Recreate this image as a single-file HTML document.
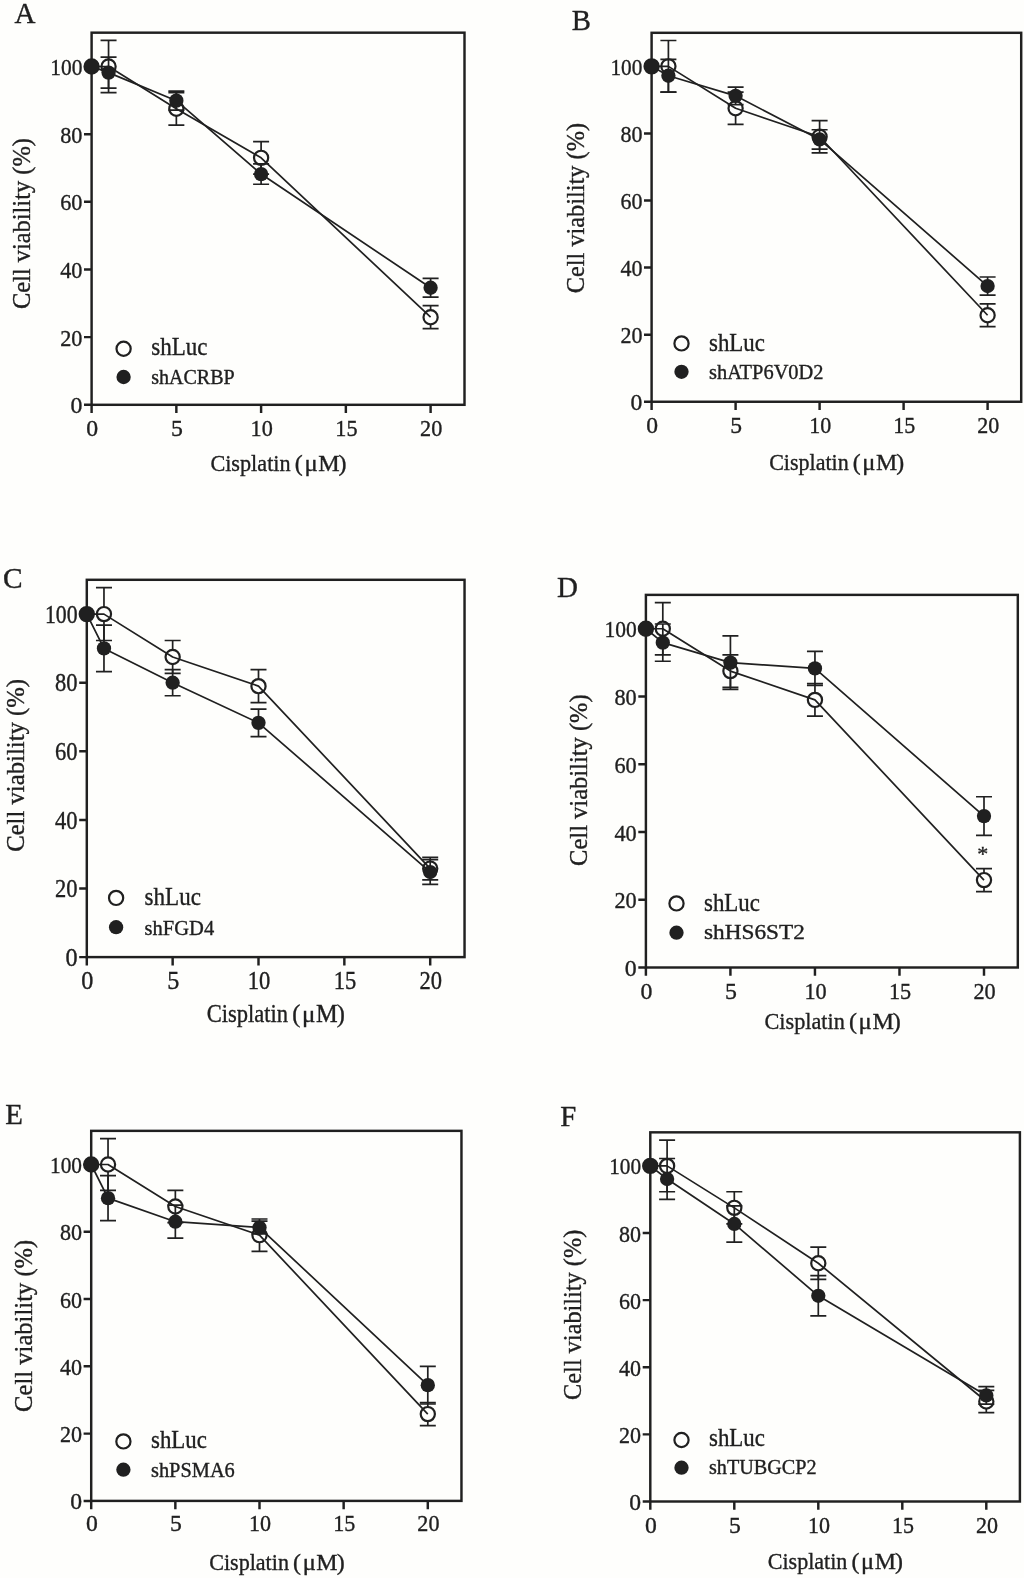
<!DOCTYPE html>
<html lang="en">
<head>
<meta charset="utf-8">
<title>Cell viability vs cisplatin</title>
<style>
html,body{margin:0;padding:0;background:#fefefc;}
body{width:1024px;height:1578px;overflow:hidden;}
svg{display:block;filter:blur(0.45px);}
svg text{font-family:"Liberation Serif", "DejaVu Serif", serif;fill:#202020;stroke:#202020;stroke-width:0.35px;}
</style>
</head>
<body>
<svg width="1024" height="1578" viewBox="0 0 1024 1578">
<rect width="1024" height="1578" fill="#fefefc"/>
<g id="panelA">
<rect x="91.6" y="32.67" width="372.9" height="372.13" fill="none" stroke="#202020" stroke-width="2.45"/>
<path d="M84 404.8H91.6M84 337.14H91.6M84 269.48H91.6M84 201.82H91.6M84 134.16H91.6M84 66.5H91.6M91.6 404.8V413.1M176.35 404.8V413.1M261.1 404.8V413.1M345.85 404.8V413.1M430.6 404.8V413.1" stroke="#202020" stroke-width="2.45" fill="none"/>
<text x="82.4" y="413.4" font-size="23.9" text-anchor="end" textLength="11.9" lengthAdjust="spacingAndGlyphs">0</text>
<text x="82.4" y="345.74" font-size="23.9" text-anchor="end" textLength="22.2" lengthAdjust="spacingAndGlyphs">20</text>
<text x="82.4" y="278.08" font-size="23.9" text-anchor="end" textLength="22.2" lengthAdjust="spacingAndGlyphs">40</text>
<text x="82.4" y="210.42" font-size="23.9" text-anchor="end" textLength="22.2" lengthAdjust="spacingAndGlyphs">60</text>
<text x="82.4" y="142.76" font-size="23.9" text-anchor="end" textLength="22.2" lengthAdjust="spacingAndGlyphs">80</text>
<text x="82.4" y="75.1" font-size="23.9" text-anchor="end" textLength="32.2" lengthAdjust="spacingAndGlyphs">100</text>
<text x="92.2" y="436.1" font-size="23.9" text-anchor="middle" textLength="11.9" lengthAdjust="spacingAndGlyphs">0</text>
<text x="176.95" y="436.1" font-size="23.9" text-anchor="middle" textLength="11.9" lengthAdjust="spacingAndGlyphs">5</text>
<text x="261.7" y="436.1" font-size="23.9" text-anchor="middle" textLength="22.2" lengthAdjust="spacingAndGlyphs">10</text>
<text x="346.45" y="436.1" font-size="23.9" text-anchor="middle" textLength="22.2" lengthAdjust="spacingAndGlyphs">15</text>
<text x="431.2" y="436.1" font-size="23.9" text-anchor="middle" textLength="22.2" lengthAdjust="spacingAndGlyphs">20</text>
<text y="471.3" font-size="24"><tspan x="210.4" textLength="80.2" lengthAdjust="spacingAndGlyphs">Cisplatin</tspan> <tspan x="294.7">(</tspan><tspan x="304.4" font-size="22.5" textLength="13.2" lengthAdjust="spacingAndGlyphs">μ</tspan><tspan x="318.2" textLength="21.4" lengthAdjust="spacingAndGlyphs">M</tspan><tspan x="338.6">)</tspan></text>
<text transform="translate(30.4 223.6) rotate(-90)" font-size="25" text-anchor="middle" textLength="171" lengthAdjust="spacingAndGlyphs">Cell viability (%)</text>
<text x="14.5" y="23.4" font-size="29">A</text>
<path d="M108.55 40.45V92.55M100.55 40.45h16M100.55 92.55h16M176.35 92.55V125.03M168.35 92.55h16M168.35 125.03h16M261.1 141.6V174.08M253.1 141.6h16M253.1 174.08h16M430.6 305.68V328.68M422.6 305.68h16M422.6 328.68h16" stroke="#202020" stroke-width="1.7" fill="none"/>
<circle cx="91.6" cy="66.5" r="7.1" fill="#fefefc" stroke="#202020" stroke-width="2.2"/>
<circle cx="108.55" cy="66.5" r="7.1" fill="#fefefc" stroke="#202020" stroke-width="2.2"/>
<circle cx="176.35" cy="108.79" r="7.1" fill="#fefefc" stroke="#202020" stroke-width="2.2"/>
<circle cx="261.1" cy="157.84" r="7.1" fill="#fefefc" stroke="#202020" stroke-width="2.2"/>
<circle cx="430.6" cy="317.18" r="7.1" fill="#fefefc" stroke="#202020" stroke-width="2.2"/>
<polyline points="91.6,66.5 108.55,66.5 176.35,108.79 261.1,157.84 430.6,317.18" fill="none" stroke="#202020" stroke-width="1.7" stroke-linejoin="round"/>
<path d="M108.55 57.03V88.15M100.55 57.03h16M100.55 88.15h16M176.35 91.2V110.14M168.35 91.2h16M168.35 110.14h16M261.1 163.93V184.23M253.1 163.93h16M253.1 184.23h16M430.6 278.44V297.05M422.6 278.44h16M422.6 297.05h16" stroke="#202020" stroke-width="1.7" fill="none"/>
<polyline points="91.6,66.5 108.55,72.59 176.35,100.67 261.1,174.08 430.6,287.75" fill="none" stroke="#202020" stroke-width="1.7" stroke-linejoin="round"/>
<circle cx="91.6" cy="66.5" r="7.15" fill="#202020"/>
<circle cx="108.55" cy="72.59" r="7.15" fill="#202020"/>
<circle cx="176.35" cy="100.67" r="7.15" fill="#202020"/>
<circle cx="261.1" cy="174.08" r="7.15" fill="#202020"/>
<circle cx="430.6" cy="287.75" r="7.15" fill="#202020"/>
<circle cx="123.6" cy="348.75" r="7.1" fill="none" stroke="#202020" stroke-width="2.2"/>
<circle cx="123.6" cy="377" r="7.15" fill="#202020"/>
<text x="151.2" y="355" font-size="24.4" textLength="56.2" lengthAdjust="spacingAndGlyphs">shLuc</text>
<text x="151.2" y="384" font-size="20.8" textLength="83.6" lengthAdjust="spacingAndGlyphs">shACRBP</text>
</g>
<g id="panelB">
<rect x="651.6" y="32.81" width="369.6" height="368.94" fill="none" stroke="#202020" stroke-width="2.45"/>
<path d="M644 401.75H651.6M644 334.67H651.6M644 267.59H651.6M644 200.51H651.6M644 133.43H651.6M644 66.35H651.6M651.6 401.75V410.05M735.6 401.75V410.05M819.6 401.75V410.05M903.6 401.75V410.05M987.6 401.75V410.05" stroke="#202020" stroke-width="2.45" fill="none"/>
<text x="642.4" y="410.28" font-size="23.7" text-anchor="end" textLength="11.8" lengthAdjust="spacingAndGlyphs">0</text>
<text x="642.4" y="343.2" font-size="23.7" text-anchor="end" textLength="22.01" lengthAdjust="spacingAndGlyphs">20</text>
<text x="642.4" y="276.12" font-size="23.7" text-anchor="end" textLength="22.01" lengthAdjust="spacingAndGlyphs">40</text>
<text x="642.4" y="209.04" font-size="23.7" text-anchor="end" textLength="22.01" lengthAdjust="spacingAndGlyphs">60</text>
<text x="642.4" y="141.96" font-size="23.7" text-anchor="end" textLength="22.01" lengthAdjust="spacingAndGlyphs">80</text>
<text x="642.4" y="74.88" font-size="23.7" text-anchor="end" textLength="31.92" lengthAdjust="spacingAndGlyphs">100</text>
<text x="652.2" y="432.78" font-size="23.7" text-anchor="middle" textLength="11.8" lengthAdjust="spacingAndGlyphs">0</text>
<text x="736.2" y="432.78" font-size="23.7" text-anchor="middle" textLength="11.8" lengthAdjust="spacingAndGlyphs">5</text>
<text x="820.2" y="432.78" font-size="23.7" text-anchor="middle" textLength="22.01" lengthAdjust="spacingAndGlyphs">10</text>
<text x="904.2" y="432.78" font-size="23.7" text-anchor="middle" textLength="22.01" lengthAdjust="spacingAndGlyphs">15</text>
<text x="988.2" y="432.78" font-size="23.7" text-anchor="middle" textLength="22.01" lengthAdjust="spacingAndGlyphs">20</text>
<text y="470.3" font-size="23.79"><tspan x="769.2" textLength="79.51" lengthAdjust="spacingAndGlyphs">Cisplatin</tspan> <tspan x="852.78">(</tspan><tspan x="862.39" font-size="22.31" textLength="13.09" lengthAdjust="spacingAndGlyphs">μ</tspan><tspan x="876.08" textLength="21.22" lengthAdjust="spacingAndGlyphs">M</tspan><tspan x="896.3">)</tspan></text>
<text transform="translate(583.9 208.1) rotate(-90)" font-size="24.79" text-anchor="middle" textLength="170.2" lengthAdjust="spacingAndGlyphs">Cell viability (%)</text>
<text x="571.8" y="29.5" font-size="28.75">B</text>
<path d="M668.4 40.52V92.18M660.4 40.52h16M660.4 92.18h16M735.6 92.18V124.37M727.6 92.18h16M727.6 124.37h16M819.6 120.68V152.88M811.6 120.68h16M811.6 152.88h16M987.6 303.81V326.62M979.6 303.81h16M979.6 326.62h16" stroke="#202020" stroke-width="1.7" fill="none"/>
<circle cx="651.6" cy="66.35" r="7.1" fill="#fefefc" stroke="#202020" stroke-width="2.2"/>
<circle cx="668.4" cy="66.35" r="7.1" fill="#fefefc" stroke="#202020" stroke-width="2.2"/>
<circle cx="735.6" cy="108.27" r="7.1" fill="#fefefc" stroke="#202020" stroke-width="2.2"/>
<circle cx="819.6" cy="136.78" r="7.1" fill="#fefefc" stroke="#202020" stroke-width="2.2"/>
<circle cx="987.6" cy="315.22" r="7.1" fill="#fefefc" stroke="#202020" stroke-width="2.2"/>
<polyline points="651.6,66.35 668.4,66.35 735.6,108.27 819.6,136.78 987.6,315.22" fill="none" stroke="#202020" stroke-width="1.7" stroke-linejoin="round"/>
<path d="M668.4 59.31V92.18M660.4 59.31h16M660.4 92.18h16M735.6 87.14V104.59M727.6 87.14h16M727.6 104.59h16M819.6 129.74V149.19M811.6 129.74h16M811.6 149.19h16M987.6 276.98V295.09M979.6 276.98h16M979.6 295.09h16" stroke="#202020" stroke-width="1.7" fill="none"/>
<polyline points="651.6,66.35 668.4,75.74 735.6,95.87 819.6,139.47 987.6,286.04" fill="none" stroke="#202020" stroke-width="1.7" stroke-linejoin="round"/>
<circle cx="651.6" cy="66.35" r="7.15" fill="#202020"/>
<circle cx="668.4" cy="75.74" r="7.15" fill="#202020"/>
<circle cx="735.6" cy="95.87" r="7.15" fill="#202020"/>
<circle cx="819.6" cy="139.47" r="7.15" fill="#202020"/>
<circle cx="987.6" cy="286.04" r="7.15" fill="#202020"/>
<circle cx="681.5" cy="343.4" r="7.1" fill="none" stroke="#202020" stroke-width="2.2"/>
<circle cx="681.5" cy="371.8" r="7.15" fill="#202020"/>
<text x="709" y="350.9" font-size="24.19" textLength="55.9" lengthAdjust="spacingAndGlyphs">shLuc</text>
<text x="709" y="378.6" font-size="20.62" textLength="114.5" lengthAdjust="spacingAndGlyphs">shATP6V0D2</text>
</g>
<g id="panelC">
<rect x="86.8" y="579.8" width="377.74" height="377.3" fill="none" stroke="#202020" stroke-width="2.45"/>
<path d="M79.2 957.1H86.8M79.2 888.5H86.8M79.2 819.9H86.8M79.2 751.3H86.8M79.2 682.7H86.8M79.2 614.1H86.8M86.8 957.1V965.4M172.65 957.1V965.4M258.5 957.1V965.4M344.35 957.1V965.4M430.2 957.1V965.4" stroke="#202020" stroke-width="2.45" fill="none"/>
<text x="77.6" y="965.82" font-size="24.23" text-anchor="end" textLength="12.07" lengthAdjust="spacingAndGlyphs">0</text>
<text x="77.6" y="897.22" font-size="24.23" text-anchor="end" textLength="22.51" lengthAdjust="spacingAndGlyphs">20</text>
<text x="77.6" y="828.62" font-size="24.23" text-anchor="end" textLength="22.51" lengthAdjust="spacingAndGlyphs">40</text>
<text x="77.6" y="760.02" font-size="24.23" text-anchor="end" textLength="22.51" lengthAdjust="spacingAndGlyphs">60</text>
<text x="77.6" y="691.42" font-size="24.23" text-anchor="end" textLength="22.51" lengthAdjust="spacingAndGlyphs">80</text>
<text x="77.6" y="622.82" font-size="24.23" text-anchor="end" textLength="32.65" lengthAdjust="spacingAndGlyphs">100</text>
<text x="87.4" y="988.83" font-size="24.23" text-anchor="middle" textLength="12.07" lengthAdjust="spacingAndGlyphs">0</text>
<text x="173.25" y="988.83" font-size="24.23" text-anchor="middle" textLength="12.07" lengthAdjust="spacingAndGlyphs">5</text>
<text x="259.1" y="988.83" font-size="24.23" text-anchor="middle" textLength="22.51" lengthAdjust="spacingAndGlyphs">10</text>
<text x="344.95" y="988.83" font-size="24.23" text-anchor="middle" textLength="22.51" lengthAdjust="spacingAndGlyphs">15</text>
<text x="430.8" y="988.83" font-size="24.23" text-anchor="middle" textLength="22.51" lengthAdjust="spacingAndGlyphs">20</text>
<text y="1022.3" font-size="24.33"><tspan x="206.8" textLength="81.31" lengthAdjust="spacingAndGlyphs">Cisplatin</tspan> <tspan x="292.27">(</tspan><tspan x="302.11" font-size="22.81" textLength="13.38" lengthAdjust="spacingAndGlyphs">μ</tspan><tspan x="316.1" textLength="21.7" lengthAdjust="spacingAndGlyphs">M</tspan><tspan x="336.78">)</tspan></text>
<text transform="translate(23.9 765.4) rotate(-90)" font-size="25.35" text-anchor="middle" textLength="172.9" lengthAdjust="spacingAndGlyphs">Cell viability (%)</text>
<text x="2.9" y="588.1" font-size="29.4">C</text>
<path d="M103.97 587.69V640.51M95.97 587.69h16M95.97 640.51h16M172.65 640.51V673.44M164.65 640.51h16M164.65 673.44h16M258.5 669.67V702.59M250.5 669.67h16M250.5 702.59h16M430.2 857.29V879.93M422.2 857.29h16M422.2 879.93h16" stroke="#202020" stroke-width="1.7" fill="none"/>
<circle cx="86.8" cy="614.1" r="7.1" fill="#fefefc" stroke="#202020" stroke-width="2.2"/>
<circle cx="103.97" cy="614.1" r="7.1" fill="#fefefc" stroke="#202020" stroke-width="2.2"/>
<circle cx="172.65" cy="656.98" r="7.1" fill="#fefefc" stroke="#202020" stroke-width="2.2"/>
<circle cx="258.5" cy="686.13" r="7.1" fill="#fefefc" stroke="#202020" stroke-width="2.2"/>
<circle cx="430.2" cy="868.61" r="7.1" fill="#fefefc" stroke="#202020" stroke-width="2.2"/>
<polyline points="86.8,614.1 103.97,614.1 172.65,656.98 258.5,686.13 430.2,868.61" fill="none" stroke="#202020" stroke-width="1.7" stroke-linejoin="round"/>
<path d="M103.97 625.08V671.72M95.97 625.08h16M95.97 671.72h16M172.65 669.67V695.73M164.65 669.67h16M164.65 695.73h16M258.5 709.11V736.55M250.5 709.11h16M250.5 736.55h16M430.2 859.69V884.38M422.2 859.69h16M422.2 884.38h16" stroke="#202020" stroke-width="1.7" fill="none"/>
<polyline points="86.8,614.1 103.97,648.4 172.65,682.7 258.5,722.83 430.2,872.04" fill="none" stroke="#202020" stroke-width="1.7" stroke-linejoin="round"/>
<circle cx="86.8" cy="614.1" r="7.15" fill="#202020"/>
<circle cx="103.97" cy="648.4" r="7.15" fill="#202020"/>
<circle cx="172.65" cy="682.7" r="7.15" fill="#202020"/>
<circle cx="258.5" cy="722.83" r="7.15" fill="#202020"/>
<circle cx="430.2" cy="872.04" r="7.15" fill="#202020"/>
<circle cx="116.1" cy="897.9" r="7.1" fill="none" stroke="#202020" stroke-width="2.2"/>
<circle cx="116.1" cy="927.2" r="7.15" fill="#202020"/>
<text x="144.6" y="905.2" font-size="24.74" textLength="56.3" lengthAdjust="spacingAndGlyphs">shLuc</text>
<text x="144.6" y="934.5" font-size="21.09" textLength="69.55" lengthAdjust="spacingAndGlyphs">shFGD4</text>
</g>
<g id="panelD">
<rect x="645.9" y="594.88" width="371.91" height="372.62" fill="none" stroke="#202020" stroke-width="2.45"/>
<path d="M638.3 967.5H645.9M638.3 899.75H645.9M638.3 832H645.9M638.3 764.25H645.9M638.3 696.5H645.9M638.3 628.75H645.9M645.9 967.5V975.8M730.42 967.5V975.8M814.95 967.5V975.8M899.48 967.5V975.8M984 967.5V975.8" stroke="#202020" stroke-width="2.45" fill="none"/>
<text x="636.7" y="976.11" font-size="23.93" text-anchor="end" textLength="11.92" lengthAdjust="spacingAndGlyphs">0</text>
<text x="636.7" y="908.36" font-size="23.93" text-anchor="end" textLength="22.23" lengthAdjust="spacingAndGlyphs">20</text>
<text x="636.7" y="840.61" font-size="23.93" text-anchor="end" textLength="22.23" lengthAdjust="spacingAndGlyphs">40</text>
<text x="636.7" y="772.86" font-size="23.93" text-anchor="end" textLength="22.23" lengthAdjust="spacingAndGlyphs">60</text>
<text x="636.7" y="705.11" font-size="23.93" text-anchor="end" textLength="22.23" lengthAdjust="spacingAndGlyphs">80</text>
<text x="636.7" y="637.36" font-size="23.93" text-anchor="end" textLength="32.24" lengthAdjust="spacingAndGlyphs">100</text>
<text x="646.5" y="998.84" font-size="23.93" text-anchor="middle" textLength="11.92" lengthAdjust="spacingAndGlyphs">0</text>
<text x="731.02" y="998.84" font-size="23.93" text-anchor="middle" textLength="11.92" lengthAdjust="spacingAndGlyphs">5</text>
<text x="815.55" y="998.84" font-size="23.93" text-anchor="middle" textLength="22.23" lengthAdjust="spacingAndGlyphs">10</text>
<text x="900.08" y="998.84" font-size="23.93" text-anchor="middle" textLength="22.23" lengthAdjust="spacingAndGlyphs">15</text>
<text x="984.6" y="998.84" font-size="23.93" text-anchor="middle" textLength="22.23" lengthAdjust="spacingAndGlyphs">20</text>
<text y="1029.4" font-size="24.03"><tspan x="764.5" textLength="80.31" lengthAdjust="spacingAndGlyphs">Cisplatin</tspan> <tspan x="848.91">(</tspan><tspan x="858.63" font-size="22.53" textLength="13.22" lengthAdjust="spacingAndGlyphs">μ</tspan><tspan x="872.44" textLength="21.43" lengthAdjust="spacingAndGlyphs">M</tspan><tspan x="892.87">)</tspan></text>
<text transform="translate(587.4 780.1) rotate(-90)" font-size="25.03" text-anchor="middle" textLength="171.6" lengthAdjust="spacingAndGlyphs">Cell viability (%)</text>
<text x="557.1" y="596.8" font-size="29.04">D</text>
<path d="M662.8 602.67V654.83M654.8 602.67h16M654.8 654.83h16M730.42 654.83V687.35M722.42 654.83h16M722.42 687.35h16M814.95 683.63V716.15M806.95 683.63h16M806.95 716.15h16M984 868.59V891.62M976 868.59h16M976 891.62h16" stroke="#202020" stroke-width="1.7" fill="none"/>
<circle cx="645.9" cy="628.75" r="7.1" fill="#fefefc" stroke="#202020" stroke-width="2.2"/>
<circle cx="662.8" cy="628.75" r="7.1" fill="#fefefc" stroke="#202020" stroke-width="2.2"/>
<circle cx="730.42" cy="671.09" r="7.1" fill="#fefefc" stroke="#202020" stroke-width="2.2"/>
<circle cx="814.95" cy="699.89" r="7.1" fill="#fefefc" stroke="#202020" stroke-width="2.2"/>
<circle cx="984" cy="880.1" r="7.1" fill="#fefefc" stroke="#202020" stroke-width="2.2"/>
<polyline points="645.9,628.75 662.8,628.75 730.42,671.09 814.95,699.89 984,880.1" fill="none" stroke="#202020" stroke-width="1.7" stroke-linejoin="round"/>
<path d="M662.8 624.01V661.27M654.8 624.01h16M654.8 661.27h16M730.42 635.86V689.39M722.42 635.86h16M722.42 689.39h16M814.95 651.45V685.32M806.95 651.45h16M806.95 685.32h16M984 796.77V835.39M976 796.77h16M976 835.39h16" stroke="#202020" stroke-width="1.7" fill="none"/>
<polyline points="645.9,628.75 662.8,642.64 730.42,662.62 814.95,668.38 984,816.08" fill="none" stroke="#202020" stroke-width="1.7" stroke-linejoin="round"/>
<circle cx="645.9" cy="628.75" r="7.15" fill="#202020"/>
<circle cx="662.8" cy="642.64" r="7.15" fill="#202020"/>
<circle cx="730.42" cy="662.62" r="7.15" fill="#202020"/>
<circle cx="814.95" cy="668.38" r="7.15" fill="#202020"/>
<circle cx="984" cy="816.08" r="7.15" fill="#202020"/>
<circle cx="676.5" cy="903.4" r="7.1" fill="none" stroke="#202020" stroke-width="2.2"/>
<circle cx="676.5" cy="932.7" r="7.15" fill="#202020"/>
<text x="704" y="910.7" font-size="24.43" textLength="55.9" lengthAdjust="spacingAndGlyphs">shLuc</text>
<text x="704" y="939.2" font-size="20.83" textLength="100.8" lengthAdjust="spacingAndGlyphs">shHS6ST2</text>
<text x="982.8" y="861.33" font-size="22" text-anchor="middle">*</text>
</g>
<g id="panelE">
<rect x="91.2" y="1130.86" width="370.26" height="370.04" fill="none" stroke="#202020" stroke-width="2.45"/>
<path d="M83.6 1500.9H91.2M83.6 1433.62H91.2M83.6 1366.34H91.2M83.6 1299.06H91.2M83.6 1231.78H91.2M83.6 1164.5H91.2M91.2 1500.9V1509.2M175.35 1500.9V1509.2M259.5 1500.9V1509.2M343.65 1500.9V1509.2M427.8 1500.9V1509.2" stroke="#202020" stroke-width="2.45" fill="none"/>
<text x="82" y="1509.45" font-size="23.77" text-anchor="end" textLength="11.83" lengthAdjust="spacingAndGlyphs">0</text>
<text x="82" y="1442.17" font-size="23.77" text-anchor="end" textLength="22.08" lengthAdjust="spacingAndGlyphs">20</text>
<text x="82" y="1374.89" font-size="23.77" text-anchor="end" textLength="22.08" lengthAdjust="spacingAndGlyphs">40</text>
<text x="82" y="1307.61" font-size="23.77" text-anchor="end" textLength="22.08" lengthAdjust="spacingAndGlyphs">60</text>
<text x="82" y="1240.33" font-size="23.77" text-anchor="end" textLength="22.08" lengthAdjust="spacingAndGlyphs">80</text>
<text x="82" y="1173.05" font-size="23.77" text-anchor="end" textLength="32.02" lengthAdjust="spacingAndGlyphs">100</text>
<text x="91.8" y="1531.22" font-size="23.77" text-anchor="middle" textLength="11.83" lengthAdjust="spacingAndGlyphs">0</text>
<text x="175.95" y="1531.22" font-size="23.77" text-anchor="middle" textLength="11.83" lengthAdjust="spacingAndGlyphs">5</text>
<text x="260.1" y="1531.22" font-size="23.77" text-anchor="middle" textLength="22.08" lengthAdjust="spacingAndGlyphs">10</text>
<text x="344.25" y="1531.22" font-size="23.77" text-anchor="middle" textLength="22.08" lengthAdjust="spacingAndGlyphs">15</text>
<text x="428.4" y="1531.22" font-size="23.77" text-anchor="middle" textLength="22.08" lengthAdjust="spacingAndGlyphs">20</text>
<text y="1570.1" font-size="23.87"><tspan x="209.2" textLength="79.75" lengthAdjust="spacingAndGlyphs">Cisplatin</tspan> <tspan x="293.03">(</tspan><tspan x="302.67" font-size="22.37" textLength="13.13" lengthAdjust="spacingAndGlyphs">μ</tspan><tspan x="316.39" textLength="21.28" lengthAdjust="spacingAndGlyphs">M</tspan><tspan x="336.68">)</tspan></text>
<text transform="translate(32 1325.8) rotate(-90)" font-size="24.86" text-anchor="middle" textLength="172.2" lengthAdjust="spacingAndGlyphs">Cell viability (%)</text>
<text x="5.35" y="1123.5" font-size="28.84">E</text>
<path d="M108.03 1138.6V1190.4M100.03 1138.6h16M100.03 1190.4h16M175.35 1190.4V1222.7M167.35 1190.4h16M167.35 1222.7h16M259.5 1219V1251.29M251.5 1219h16M251.5 1251.29h16M427.8 1402.67V1425.55M419.8 1402.67h16M419.8 1425.55h16" stroke="#202020" stroke-width="1.7" fill="none"/>
<circle cx="91.2" cy="1164.5" r="7.1" fill="#fefefc" stroke="#202020" stroke-width="2.2"/>
<circle cx="108.03" cy="1164.5" r="7.1" fill="#fefefc" stroke="#202020" stroke-width="2.2"/>
<circle cx="175.35" cy="1206.55" r="7.1" fill="#fefefc" stroke="#202020" stroke-width="2.2"/>
<circle cx="259.5" cy="1235.14" r="7.1" fill="#fefefc" stroke="#202020" stroke-width="2.2"/>
<circle cx="427.8" cy="1414.11" r="7.1" fill="#fefefc" stroke="#202020" stroke-width="2.2"/>
<polyline points="91.2,1164.5 108.03,1164.5 175.35,1206.55 259.5,1235.14 427.8,1414.11" fill="none" stroke="#202020" stroke-width="1.7" stroke-linejoin="round"/>
<path d="M108.03 1175.6V1220.68M100.03 1175.6h16M100.03 1220.68h16M175.35 1205.2V1238.17M167.35 1205.2h16M167.35 1238.17h16M259.5 1221.18V1233.97M251.5 1221.18h16M251.5 1233.97h16M427.8 1366.34V1404.02M419.8 1366.34h16M419.8 1404.02h16" stroke="#202020" stroke-width="1.7" fill="none"/>
<polyline points="91.2,1164.5 108.03,1198.14 175.35,1221.69 259.5,1227.58 427.8,1385.18" fill="none" stroke="#202020" stroke-width="1.7" stroke-linejoin="round"/>
<circle cx="91.2" cy="1164.5" r="7.15" fill="#202020"/>
<circle cx="108.03" cy="1198.14" r="7.15" fill="#202020"/>
<circle cx="175.35" cy="1221.69" r="7.15" fill="#202020"/>
<circle cx="259.5" cy="1227.58" r="7.15" fill="#202020"/>
<circle cx="427.8" cy="1385.18" r="7.15" fill="#202020"/>
<circle cx="123.4" cy="1441.4" r="7.1" fill="none" stroke="#202020" stroke-width="2.2"/>
<circle cx="123.4" cy="1469.7" r="7.15" fill="#202020"/>
<text x="151" y="1447.6" font-size="24.26" textLength="55.8" lengthAdjust="spacingAndGlyphs">shLuc</text>
<text x="151" y="1476.5" font-size="20.68" textLength="83.8" lengthAdjust="spacingAndGlyphs">shPSMA6</text>
</g>
<g id="panelF">
<rect x="650.3" y="1132.34" width="369.6" height="369.16" fill="none" stroke="#202020" stroke-width="2.45"/>
<path d="M642.7 1501.5H650.3M642.7 1434.38H650.3M642.7 1367.26H650.3M642.7 1300.14H650.3M642.7 1233.02H650.3M642.7 1165.9H650.3M650.3 1501.5V1509.8M734.3 1501.5V1509.8M818.3 1501.5V1509.8M902.3 1501.5V1509.8M986.3 1501.5V1509.8" stroke="#202020" stroke-width="2.45" fill="none"/>
<text x="641.1" y="1510.03" font-size="23.71" text-anchor="end" textLength="11.81" lengthAdjust="spacingAndGlyphs">0</text>
<text x="641.1" y="1442.91" font-size="23.71" text-anchor="end" textLength="22.02" lengthAdjust="spacingAndGlyphs">20</text>
<text x="641.1" y="1375.79" font-size="23.71" text-anchor="end" textLength="22.02" lengthAdjust="spacingAndGlyphs">40</text>
<text x="641.1" y="1308.67" font-size="23.71" text-anchor="end" textLength="22.02" lengthAdjust="spacingAndGlyphs">60</text>
<text x="641.1" y="1241.55" font-size="23.71" text-anchor="end" textLength="22.02" lengthAdjust="spacingAndGlyphs">80</text>
<text x="641.1" y="1174.43" font-size="23.71" text-anchor="end" textLength="31.94" lengthAdjust="spacingAndGlyphs">100</text>
<text x="650.9" y="1532.55" font-size="23.71" text-anchor="middle" textLength="11.81" lengthAdjust="spacingAndGlyphs">0</text>
<text x="734.9" y="1532.55" font-size="23.71" text-anchor="middle" textLength="11.81" lengthAdjust="spacingAndGlyphs">5</text>
<text x="818.9" y="1532.55" font-size="23.71" text-anchor="middle" textLength="22.02" lengthAdjust="spacingAndGlyphs">10</text>
<text x="902.9" y="1532.55" font-size="23.71" text-anchor="middle" textLength="22.02" lengthAdjust="spacingAndGlyphs">15</text>
<text x="986.9" y="1532.55" font-size="23.71" text-anchor="middle" textLength="22.02" lengthAdjust="spacingAndGlyphs">20</text>
<text y="1569" font-size="23.81"><tspan x="767.8" textLength="79.56" lengthAdjust="spacingAndGlyphs">Cisplatin</tspan> <tspan x="851.43">(</tspan><tspan x="861.05" font-size="22.32" textLength="13.09" lengthAdjust="spacingAndGlyphs">μ</tspan><tspan x="874.74" textLength="21.23" lengthAdjust="spacingAndGlyphs">M</tspan><tspan x="894.98">)</tspan></text>
<text transform="translate(580.7 1314.8) rotate(-90)" font-size="24.8" text-anchor="middle" textLength="170.2" lengthAdjust="spacingAndGlyphs">Cell viability (%)</text>
<text x="560.2" y="1126.4" font-size="28.77">F</text>
<path d="M667.1 1140.06V1191.74M659.1 1140.06h16M659.1 1191.74h16M734.3 1191.74V1223.96M726.3 1191.74h16M726.3 1223.96h16M818.3 1247.12V1279.33M810.3 1247.12h16M810.3 1279.33h16M986.3 1390.42V1412.57M978.3 1390.42h16M978.3 1412.57h16" stroke="#202020" stroke-width="1.7" fill="none"/>
<circle cx="650.3" cy="1165.9" r="7.1" fill="#fefefc" stroke="#202020" stroke-width="2.2"/>
<circle cx="667.1" cy="1165.9" r="7.1" fill="#fefefc" stroke="#202020" stroke-width="2.2"/>
<circle cx="734.3" cy="1207.85" r="7.1" fill="#fefefc" stroke="#202020" stroke-width="2.2"/>
<circle cx="818.3" cy="1263.22" r="7.1" fill="#fefefc" stroke="#202020" stroke-width="2.2"/>
<circle cx="986.3" cy="1401.49" r="7.1" fill="#fefefc" stroke="#202020" stroke-width="2.2"/>
<polyline points="650.3,1165.9 667.1,1165.9 734.3,1207.85 818.3,1263.22 986.3,1401.49" fill="none" stroke="#202020" stroke-width="1.7" stroke-linejoin="round"/>
<path d="M667.1 1158.52V1199.46M659.1 1158.52h16M659.1 1199.46h16M734.3 1205.84V1242.08M726.3 1205.84h16M726.3 1242.08h16M818.3 1275.64V1315.91M810.3 1275.64h16M810.3 1315.91h16M986.3 1386.72V1404.18M978.3 1386.72h16M978.3 1404.18h16" stroke="#202020" stroke-width="1.7" fill="none"/>
<polyline points="650.3,1165.9 667.1,1178.99 734.3,1223.96 818.3,1295.78 986.3,1395.45" fill="none" stroke="#202020" stroke-width="1.7" stroke-linejoin="round"/>
<circle cx="650.3" cy="1165.9" r="7.15" fill="#202020"/>
<circle cx="667.1" cy="1178.99" r="7.15" fill="#202020"/>
<circle cx="734.3" cy="1223.96" r="7.15" fill="#202020"/>
<circle cx="818.3" cy="1295.78" r="7.15" fill="#202020"/>
<circle cx="986.3" cy="1395.45" r="7.15" fill="#202020"/>
<circle cx="681.5" cy="1440" r="7.1" fill="none" stroke="#202020" stroke-width="2.2"/>
<circle cx="681.5" cy="1467.7" r="7.15" fill="#202020"/>
<text x="709" y="1446.25" font-size="24.21" textLength="55.9" lengthAdjust="spacingAndGlyphs">shLuc</text>
<text x="709" y="1474.2" font-size="20.63" textLength="107.65" lengthAdjust="spacingAndGlyphs">shTUBGCP2</text>
</g>
</svg>
</body>
</html>
